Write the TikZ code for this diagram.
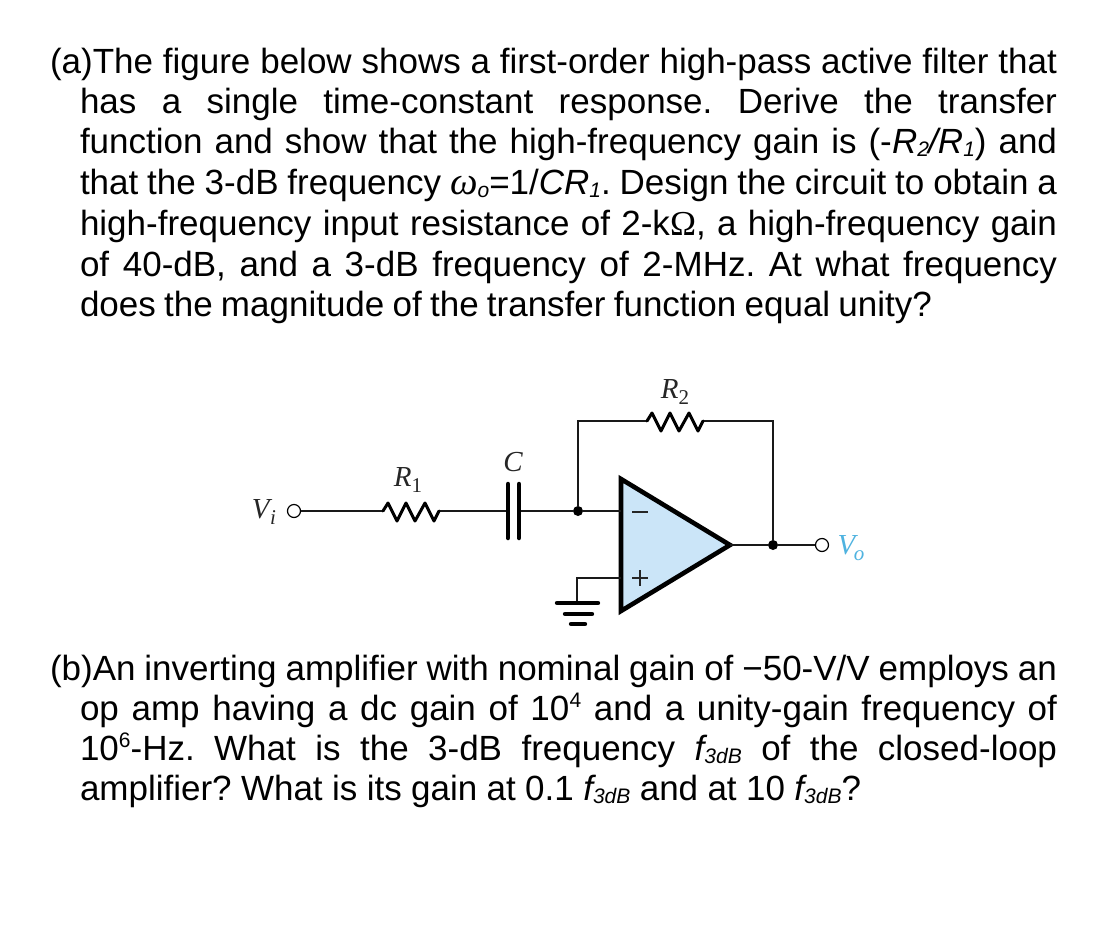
\documentclass[tikz,border=0pt]{standalone}
\usepackage{fontspec}
\setmainfont{Liberation Sans}
\newfontfamily\tms{Liberation Serif}
\definecolor{ampfill}{HTML}{CBE5F8}
\definecolor{volabel}{HTML}{4FB3E0}
\newcommand{\lowtxt}[1]{\raisebox{-0.1em}{\fontsize{21}{21}\selectfont #1}}
\newcommand{\hightxt}[1]{\raisebox{0.36em}{\fontsize{21}{21}\selectfont #1}}
\newcommand{\txtline}[5]{\node[txtline] (#1) at (#2,#3) {\hbox to #4pt{#5}};}
\tikzset{
  x=1pt,y=-1pt,
  txtline/.style={anchor=base west,inner sep=0pt,outer sep=0pt,font=\fontsize{35}{35}\selectfont\frenchspacing},
  wire/.style={draw=black!90,line width=1.5pt},
  zig/.style={draw=black,line width=3pt,line join=round,line cap=round},
  plate/.style={draw=black,line width=4.5pt,line cap=round},
  gbar/.style={draw=black,line width=4.4pt,line cap=round},
  amp/.style={draw=black,fill=ampfill,line width=4.6pt,line join=miter},
  sign/.style={draw=black!85,line width=1.5pt},
  term/.style={circle,draw=black,fill=white,line width=1.2pt,minimum size=13pt,inner sep=0pt},
  dot/.style={circle,fill=black,minimum size=10pt,inner sep=0pt},
  complabel/.style={inner sep=0pt,font=\tms\itshape\fontsize{29}{29}\selectfont,text=black!85},
}
\begin{document}
\begin{tikzpicture}
\useasboundingbox (0,0) rectangle (1114,938);
\fill[white] (0,0) rectangle (1114,938);

% question text (a)
\txtline{a1}{50}{73}{1007}{(a)The figure below shows a first-order high-pass active filter that}
\txtline{a2}{80}{113}{977}{has a single time-constant response. Derive the transfer}
\txtline{a3}{80}{153}{977}{function and show that the high-frequency gain is (-\textit{R\lowtxt{2}\kern-0.02em/R\lowtxt{1}}) and}
\txtline{a4}{80}{194}{977}{that the 3-dB frequency {\tms\itshape\fontsize{39}{39}\selectfont ω}\textit{\lowtxt{o}}=1/\textit{CR\lowtxt{1}}. Design the circuit to obtain a}
\txtline{a5}{80}{235}{977}{high-frequency input resistance of 2-k{\tms Ω}, a high-frequency gain}
\txtline{a6}{80}{276}{977}{of 40-dB, and a 3-dB frequency of 2-MHz. At what frequency}
\txtline{a7}{80}{316}{852}{does the magnitude of the transfer function equal unity?}

% question text (b)
\txtline{b1}{50}{680}{1007}{(b)An inverting amplifier with nominal gain of −50-V/V employs an}
\txtline{b2}{80}{720}{977}{op amp having a dc gain of 10\hightxt{4} and a unity-gain frequency of}
\txtline{b3}{80}{760}{977}{10\hightxt{6}-Hz. What is the 3-dB frequency \textit{f\lowtxt{3dB}} of the closed-loop}
\txtline{b4}{80}{800}{781}{amplifier? What is its gain at 0.1 \textit{f\lowtxt{3dB}} and at 10 \textit{f\lowtxt{3dB}}?}

% named points of the circuit
\node[term] (vi) at (294,511) {};
\coordinate (r1a) at (383,511);
\coordinate (r1b) at (439,511);
\coordinate (c1) at (508,511);
\coordinate (c2) at (519,511);
\coordinate (c1t) at (508,484);
\coordinate (c1b) at (508,538);
\coordinate (c2t) at (519,484);
\coordinate (c2b) at (519,538);
\node[dot] (nin) at (578,511) {};
\coordinate (tl) at (578,421);
\coordinate (r2a) at (647,421);
\coordinate (r2b) at (703,421);
\coordinate (tr) at (773,421);
\node[dot] (nout) at (773,545) {};
\node[term] (vo) at (822,545) {};
\coordinate (ampT) at (621,479);
\coordinate (ampB) at (621,611);
\coordinate (ampO) at (730,545);
\coordinate (ampM) at (621,511);
\coordinate (ampP) at (621,578);
\coordinate (gt) at (577,578);
\coordinate (g1) at (577,603);

% op amp
\draw[amp] (ampT) -- (ampO) -- (ampB) -- cycle;
\draw[sign] (632,512) -- (648,512);
\draw[sign] (632,578) -- (648,578) (640,570) -- (640,586);

% wires
\draw[wire] (vi) -- (r1a);
\draw[wire] (r1b) -- (c1);
\draw[wire] (c2) -- (nin);
\draw[wire] (nin) -- (ampM);
\draw[wire] (nin) -- (tl) -- (r2a);
\draw[wire] (r2b) -- (tr) -- (nout);
\draw[wire] (ampO) -- (nout);
\draw[wire] (nout) -- (vo);
\draw[wire] (ampP) -- (gt) -- (g1);

% resistors
\draw[zig] (r1a) -- ++(5,-8) -- ++(9,18) -- ++(9,-18) -- ++(9,18) -- ++(10,-18) -- ++(9,18) -- (r1b);
\draw[zig] (r2a) -- ++(5,-8) -- ++(9,18) -- ++(9,-18) -- ++(9,18) -- ++(10,-18) -- ++(9,18) -- (r2b);

% capacitor
\draw[plate] (c1t) -- (c1b);
\draw[plate] (c2t) -- (c2b);

% ground
\draw[gbar] (557,603) -- (g1) -- (598,603);
\draw[gbar] (565,614) -- (592,614);
\draw[gbar] (571,624) -- (585,624);

% labels
\node[complabel] (lvi) at (264,512) {V\kern0.02em\raisebox{-0.22em}{\fontsize{21}{21}\selectfont i}};
\node[complabel] (lr1) at (408,480) {R\raisebox{-0.22em}{\fontsize{21}{21}\selectfont\upshape 1}};
\node[complabel] (lc) at (513,462) {C};
\node[complabel] (lr2) at (675,392) {R\raisebox{-0.22em}{\fontsize{21}{21}\selectfont\upshape 2}};
\node[complabel,text=volabel] (lvo) at (851,548) {V\kern-0.05em\raisebox{-0.22em}{\fontsize{21}{21}\selectfont o}};
\end{tikzpicture}
\end{document}
